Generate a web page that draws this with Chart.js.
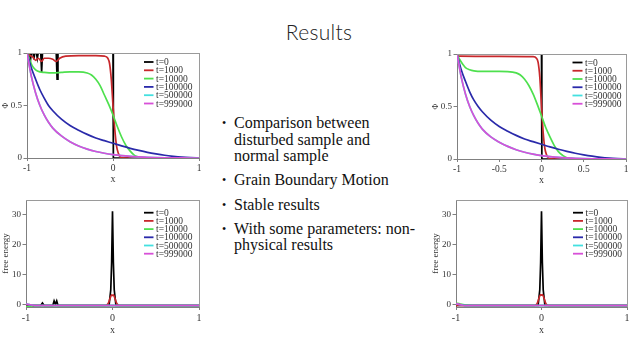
<!DOCTYPE html>
<html><head><meta charset="utf-8">
<script src="https://cdn.jsdelivr.net/npm/chart.js@4.4.1/dist/chart.umd.min.js"></script>
<style>
html,body{margin:0;padding:0;background:#fff;}
body{width:638px;height:359px;position:relative;overflow:hidden;}
canvas{position:absolute;}
#title{position:absolute;left:0;width:638px;top:19px;text-align:center;font-family:Lato,"Open Sans",sans-serif;font-weight:300;font-size:21px;color:#222;letter-spacing:0.3px;}
#bul{position:absolute;left:222px;top:115px;font-family:"Liberation Serif","DejaVu Serif",serif;font-size:16px;line-height:16.6px;color:#111;margin:0;padding:0;list-style:none;}
#bul li{position:relative;padding-left:12px;margin-bottom:7.6px;}
#bul li:before{content:"\2022";position:absolute;left:0;top:0;font-size:12px;}
</style></head><body>
<div id="title">Results</div>
<ul id="bul">
<li>Comparison between<br>disturbed sample and<br>normal sample</li>
<li>Grain Boundary Motion</li>
<li>Stable results</li>
<li>With some parameters: non-<br>physical results</li>
</ul>
<canvas id="c1" width="210" height="142" style="left:0px;top:45px"></canvas>
<canvas id="c2" width="208" height="142" style="left:430px;top:46px"></canvas>
<canvas id="c3" width="210" height="146" style="left:0px;top:192px"></canvas>
<canvas id="c4" width="208" height="146" style="left:430px;top:192px"></canvas>
<script>
// ---- labels / ticks ----
const seriesLabels = ["t=0","t=1000","t=10000","t=100000","t=500000","t=999000"];
const seriesColors = ["#000000","#c8282c","#4ee04e","#2a2aaa","#44e0e0","#d850d8"];
const phiYTicks = [0, 0.5, 1];
const phiYTickLabels = ["0", "0.5", "1"];
const xTicksLeft = [-1, 0, 1];
const xTicksRightTop = [-1, -0.5, 0, 0.5, 1];
const feYTicks = [0, 10, 20, 30];

// ---- Top-left: Phi, disturbed sample ----
const phiD_t0_x = [-1,-0.97,-0.96,-0.95,-0.93,-0.92,-0.91,-0.89,-0.88,-0.87,-0.84,-0.83,-0.82,-0.66,-0.65,-0.64,0,0.004,1];
const phiD_t0_y = [1,1,0.93,1,1,0.94,1,1,0.95,1,1,0.82,1,1,0.75,1,1,0,0];
const phiD_t1_x = [-1,-0.97,-0.93,-0.9,-0.87,-0.83,-0.8,-0.75,-0.7,-0.66,-0.62,-0.55,-0.4,-0.2,-0.1,-0.06,-0.04,-0.02,0,0.02,0.04,0.06,0.08,0.1,0.15,1];
const phiD_t1_y = [1,0.98,0.96,0.93,0.95,0.92,0.95,0.95,0.94,0.92,0.95,0.97,0.975,0.975,0.97,0.95,0.9,0.75,0.5,0.28,0.12,0.05,0.015,0.003,0,0];
const phiD_t2_x = [-1,-0.97,-0.94,-0.9,-0.85,-0.8,-0.7,-0.6,-0.5,-0.4,-0.3,-0.25,-0.2,-0.15,-0.1,-0.05,0,0.05,0.1,0.15,0.2,0.25,0.3,0.35,0.4,1];
const phiD_t2_y = [1,0.94,0.88,0.84,0.82,0.815,0.81,0.815,0.82,0.82,0.81,0.79,0.75,0.69,0.6,0.51,0.41,0.3,0.2,0.12,0.065,0.025,0.008,0.001,0,0];
const phiD_t3_x = [-1,-0.95,-0.9,-0.85,-0.8,-0.75,-0.7,-0.6,-0.5,-0.4,-0.3,-0.2,-0.1,0,0.1,0.2,0.3,0.4,0.5,0.6,0.7,0.8,0.9,1];
const phiD_t3_y = [1,0.86,0.75,0.65,0.57,0.5,0.45,0.37,0.31,0.265,0.225,0.19,0.165,0.14,0.115,0.092,0.072,0.054,0.039,0.026,0.016,0.008,0.003,0];
const phiD_t4_x = [-1,-0.95,-0.9,-0.85,-0.8,-0.75,-0.7,-0.6,-0.5,-0.4,-0.3,-0.2,-0.1,0,0.1,0.2,0.3,0.4,0.6,0.8,1];
const phiD_t4_y = [1,0.78,0.62,0.5,0.41,0.34,0.285,0.21,0.155,0.115,0.085,0.062,0.045,0.032,0.022,0.015,0.01,0.006,0.002,0.0005,0];
const phiD_t5_x = [-1,-0.95,-0.9,-0.85,-0.8,-0.75,-0.7,-0.6,-0.5,-0.4,-0.3,-0.2,-0.1,0,0.1,0.2,0.3,0.4,0.6,0.8,1];
const phiD_t5_y = [1,0.78,0.62,0.5,0.41,0.34,0.285,0.21,0.155,0.115,0.085,0.062,0.045,0.032,0.022,0.015,0.01,0.006,0.002,0.0005,0];

// ---- Top-right: Phi, normal sample ----
const phiN_t0_x = [-1,0,0.004,1];
const phiN_t0_y = [1,1,0,0];
const phiN_t1_x = [-1,-0.98,-0.5,-0.1,-0.06,-0.04,-0.02,0,0.02,0.04,0.06,0.08,0.1,0.15,1];
const phiN_t1_y = [1,0.98,0.978,0.975,0.96,0.92,0.78,0.5,0.25,0.1,0.04,0.012,0.003,0,0];
const phiN_t2_x = [-1,-0.97,-0.93,-0.9,-0.85,-0.8,-0.7,-0.5,-0.4,-0.3,-0.25,-0.2,-0.15,-0.1,-0.05,0,0.05,0.1,0.15,0.2,0.25,0.3,0.35,0.4,1];
const phiN_t2_y = [1,0.95,0.9,0.87,0.85,0.84,0.835,0.835,0.833,0.82,0.8,0.76,0.7,0.62,0.52,0.41,0.3,0.21,0.13,0.07,0.035,0.012,0.003,0,0];
const phiN_t3_x = [-1,-0.95,-0.9,-0.85,-0.8,-0.75,-0.7,-0.6,-0.5,-0.4,-0.3,-0.2,-0.1,0,0.1,0.2,0.3,0.4,0.5,0.6,0.7,0.8,0.9,1];
const phiN_t3_y = [1,0.85,0.74,0.64,0.56,0.5,0.45,0.37,0.31,0.265,0.225,0.19,0.165,0.14,0.115,0.093,0.073,0.055,0.04,0.027,0.016,0.008,0.003,0];
const phiN_t4_x = [-1,-0.95,-0.9,-0.85,-0.8,-0.75,-0.7,-0.6,-0.5,-0.4,-0.3,-0.2,-0.1,0,0.1,0.2,0.3,0.4,0.6,0.8,1];
const phiN_t4_y = [1,0.78,0.62,0.5,0.41,0.34,0.285,0.21,0.16,0.12,0.088,0.064,0.046,0.033,0.023,0.015,0.01,0.006,0.002,0.0005,0];
const phiN_t5_x = [-1,-0.95,-0.9,-0.85,-0.8,-0.75,-0.7,-0.6,-0.5,-0.4,-0.3,-0.2,-0.1,0,0.1,0.2,0.3,0.4,0.6,0.8,1];
const phiN_t5_y = [1,0.78,0.62,0.5,0.41,0.34,0.285,0.21,0.16,0.12,0.088,0.064,0.046,0.033,0.023,0.015,0.01,0.006,0.002,0.0005,0];

// ---- Bottom-left: free energy, disturbed sample ----
const feD_t0_x = [-1,-0.83,-0.81,-0.79,-0.69,-0.675,-0.66,-0.645,-0.63,-0.04,-0.02,-0.01,0,0.01,0.02,0.04,1];
const feD_t0_y = [-0.2,-0.2,0.6,-0.2,-0.2,1.3,0.2,1.3,-0.2,-0.2,5,14,31,14,5,-0.2,-0.2];
const feD_t1_x = [-1,-0.08,-0.05,-0.03,-0.01,0,0.01,0.03,0.05,0.08,1];
const feD_t1_y = [-0.2,-0.2,0.5,2,3.3,3.1,3.3,2,0.5,-0.2,-0.2];
const feD_t2_x = [-1,-0.95,-0.9,1];
const feD_t2_y = [-0.6,-0.4,-0.25,-0.25];
const feD_t3_x = [-1,-0.95,-0.9,1];
const feD_t3_y = [0.2,0,-0.2,-0.2];
const feD_t4_x = [-1,-0.95,-0.9,1];
const feD_t4_y = [0.3,0.05,-0.2,-0.2];
const feD_t5_x = [-1,-0.95,-0.9,1];
const feD_t5_y = [0.3,0.05,-0.2,-0.2];

// ---- Bottom-right: free energy, normal sample ----
const feN_t0_x = [-1,-0.04,-0.02,-0.01,0,0.01,0.02,0.04,1];
const feN_t0_y = [-0.2,-0.2,5,14,31,14,5,-0.2,-0.2];
const feN_t1_x = [-1,-0.08,-0.05,-0.03,-0.01,0,0.01,0.03,0.05,0.08,1];
const feN_t1_y = [-0.2,-0.2,0.5,2.2,3.4,3.2,3.4,2.2,0.5,-0.2,-0.2];
const feN_t2_x = [-1,-0.95,-0.9,-0.8,1];
const feN_t2_y = [0.6,0.3,0.05,-0.2,-0.2];
const feN_t3_x = [-1,-0.95,-0.9,1];
const feN_t3_y = [0.3,0.05,-0.2,-0.2];
const feN_t4_x = [-1,-0.95,-0.9,1];
const feN_t4_y = [0.3,0.05,-0.2,-0.2];
const feN_t5_x = [-1,-0.95,-0.9,1];
const feN_t5_y = [0.4,0.1,-0.2,-0.2];

const SERIF = '"Liberation Serif","DejaVu Serif",serif';
const AXC = '#808080';

function pts(xs, ys){ return xs.map((x,i)=>({x:x,y:ys[i]})); }

const legendPlugin = {
  id:'inLegend',
  afterDraw(chart, args, opts){
    const ctx = chart.ctx, a = chart.chartArea;
    ctx.save();
    ctx.font = opts.fontSize + 'px ' + SERIF;
    ctx.textBaseline = 'middle';
    chart.data.datasets.forEach((ds,i)=>{
      const y = a.top + opts.top + i*opts.dy;
      const x0 = a.right - opts.right;
      ctx.strokeStyle = ds.borderColor; ctx.lineWidth = 1.8;
      ctx.beginPath(); ctx.moveTo(x0,y); ctx.lineTo(x0+opts.len,y); ctx.stroke();
      ctx.fillStyle = '#333';
      ctx.fillText(ds.label, x0+opts.len+2.5, y+0.5);
    });
    ctx.restore();
  }
};
const framePlugin = {
  id:'frame',
  afterDatasetsDraw(chart){
    const ctx = chart.ctx, a = chart.chartArea;
    ctx.save(); ctx.strokeStyle = '#9a9a9a'; ctx.lineWidth = 1;
    ctx.beginPath();
    ctx.moveTo(a.left, Math.round(a.top)+0.5); ctx.lineTo(a.right, Math.round(a.top)+0.5);
    ctx.moveTo(Math.round(a.right)+0.5, a.top); ctx.lineTo(Math.round(a.right)+0.5, a.bottom);
    ctx.stroke(); ctx.restore();
  }
};

function makeChart(id, series, cfg){
  const datasets = series.map((s,i)=>({
    label: seriesLabels[i],
    data: pts(s[0], s[1]),
    borderColor: seriesColors[i],
    backgroundColor: seriesColors[i],
    borderWidth: 1.7,
    pointRadius: 0,
    showLine: true,
    cubicInterpolationMode: i===0 ? 'default' : 'monotone',
    tension: 0,
    order: 6 - i
  }));
  return new Chart(document.getElementById(id), {
    type:'scatter',
    data:{datasets},
    options:{
      responsive:false, animation:false, events:[],
      layout:{padding:{top:cfg.padTop, right:cfg.padRight, left:0, bottom:0}},
      plugins:{legend:{display:false}, tooltip:{enabled:false}, inLegend:cfg.legend},
      scales:{
        x:{type:'linear', min:-1, max:1,
           afterBuildTicks(s){ s.ticks = cfg.xTicks.map(v=>({value:v})); },
           afterFit(s){ s.height = cfg.xH; },
           ticks:{font:{family:SERIF,size:cfg.xFont}, color:'#333', padding:2, maxRotation:0, autoSkip:false,
                  callback:(v)=>String(v)},
           grid:{display:true, drawOnChartArea:false, drawTicks:true, tickLength:3, color:AXC},
           border:{color:AXC, width:1},
           title:{display:true, text:'x', font:{family:SERIF,size:10}, color:'#333', padding:{top:0,bottom:cfg.xTitlePad}}
        },
        y:{type:'linear', min:cfg.yMin, max:cfg.yMax,
           afterBuildTicks(s){ s.ticks = cfg.yTicks.map(v=>({value:v})); },
           afterFit(s){ s.width = cfg.yW; },
           ticks:{font:{family:SERIF,size:9}, color:'#333', padding:1.5, autoSkip:false,
                  callback:cfg.yLabel},
           grid:{display:true, drawOnChartArea:false, drawTicks:true, tickLength:3.5, color:AXC},
           border:{color:AXC, width:1},
           title:{display:true, text:cfg.yTitle, font:{family:SERIF,size:cfg.yTitleFont}, color:'#333', padding:{top:cfg.yTitlePad,bottom:0}}
        }
      }
    },
    plugins:[framePlugin, legendPlugin]
  });
}

const phiLabel = (v)=>{ const i = phiYTicks.indexOf(v); return i>=0 ? phiYTickLabels[i] : ''; };

makeChart('c1', [[phiD_t0_x,phiD_t0_y],[phiD_t1_x,phiD_t1_y],[phiD_t2_x,phiD_t2_y],[phiD_t3_x,phiD_t3_y],[phiD_t4_x,phiD_t4_y],[phiD_t5_x,phiD_t5_y]],
  {padTop:8, padRight:11, xH:29, xTitlePad:2, yW:27, yMin:0, yMax:1, yTicks:phiYTicks, yLabel:phiLabel, xTicks:xTicksLeft,
   xFont:9.5, yTitle:'Φ', yTitleFont:8, yTitlePad:1, legend:{right:55, top:9, dy:8.3, len:9.5, fontSize:9.5}});
makeChart('c2', [[phiN_t0_x,phiN_t0_y],[phiN_t1_x,phiN_t1_y],[phiN_t2_x,phiN_t2_y],[phiN_t3_x,phiN_t3_y],[phiN_t4_x,phiN_t4_y],[phiN_t5_x,phiN_t5_y]],
  {padTop:8, padRight:12, xH:29, xTitlePad:2, yW:27, yMin:0, yMax:1, yTicks:phiYTicks, yLabel:phiLabel, xTicks:xTicksRightTop,
   xFont:9.5, yTitle:'Φ', yTitleFont:8, yTitlePad:1, legend:{right:53.5, top:8.5, dy:8.25, len:10, fontSize:9.5}});
makeChart('c3', [[feD_t0_x,feD_t0_y],[feD_t1_x,feD_t1_y],[feD_t2_x,feD_t2_y],[feD_t3_x,feD_t3_y],[feD_t4_x,feD_t4_y],[feD_t5_x,feD_t5_y]],
  {padTop:8, padRight:11, xH:31, xTitlePad:2, yW:26, yMin:-0.7, yMax:34.7, yTicks:feYTicks, yLabel:(v)=>String(v), xTicks:xTicksLeft,
   xFont:10, yTitle:'free energy', yTitleFont:9, yTitlePad:0.5, legend:{right:55, top:12.7, dy:8.2, len:9.5, fontSize:9.5}});
makeChart('c4', [[feN_t0_x,feN_t0_y],[feN_t1_x,feN_t1_y],[feN_t2_x,feN_t2_y],[feN_t3_x,feN_t3_y],[feN_t4_x,feN_t4_y],[feN_t5_x,feN_t5_y]],
  {padTop:8, padRight:11, xH:31, xTitlePad:2, yW:26, yMin:-0.7, yMax:34.7, yTicks:feYTicks, yLabel:(v)=>String(v), xTicks:xTicksLeft,
   xFont:10, yTitle:'free energy', yTitleFont:9, yTitlePad:0.5, legend:{right:54, top:12.7, dy:8.2, len:10, fontSize:9.5}});
</script>
</body></html>
